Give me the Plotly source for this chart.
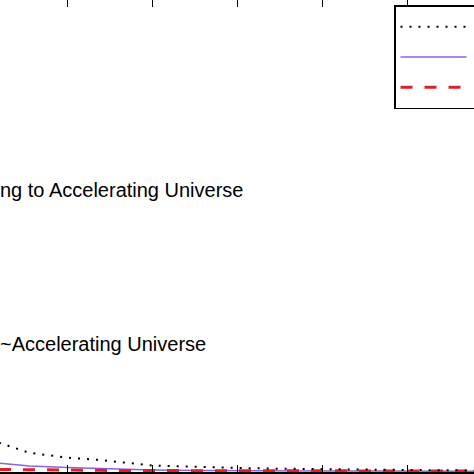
import plotly.graph_objects as go

# x positions (axis units) shared by all three curves
x_vals = [0.2, 0.56, 1.0, 1.39, 2.0, 2.56, 3.0, 3.5, 4.0, 4.5, 5.0, 5.8]

# curve values
dotted_vals = [0.124, 0.081, 0.061, 0.051, 0.0275, 0.0199, 0.017, 0.014, 0.0114, 0.0098, 0.0085, 0.0064]
solid_vals = [0.038, 0.025, 0.019, 0.015, 0.0085, 0.0064, 0.005, 0.0046, 0.0042, 0.0038, 0.0034, 0.003]
dashed_vals = [0.011, 0.009, 0.008, 0.007, 0.006, 0.0055, 0.005, 0.0048, 0.0045, 0.0042, 0.004, 0.004]

series_names = ["Model I", "Model II", "Model III"]
tick_vals = [1, 2, 3, 4, 5]

FONT = "Liberation Sans, Arial, Helvetica"

fig = go.Figure()

# legend labels are off the right edge in the reference, so only the samples show
# dotted curve sits on the top x axis (same range) so that axis gets drawn
fig.add_trace(go.Scatter(
    x=x_vals, y=dotted_vals, mode="lines", name="", xaxis="x2",
    hovertemplate=series_names[0] + "<extra></extra>",
    line=dict(color="black", width=2, dash="2px,7px"),
))
fig.add_trace(go.Scatter(
    x=x_vals, y=solid_vals, mode="lines", name="",
    hovertemplate=series_names[1] + "<extra></extra>",
    line=dict(color="#8d63d6", width=1.5),
))
fig.add_trace(go.Scatter(
    x=x_vals, y=dashed_vals, mode="lines", name="",
    hovertemplate=series_names[2] + "<extra></extra>",
    line=dict(color="#e0202a", width=3, dash="12px,12px"),
))

# region labels
fig.add_annotation(
    xref="paper", yref="paper", x=0, y=1 - 190 / 472,
    text="ng to Accelerating Universe", showarrow=False,
    xanchor="left", yanchor="middle", xshift=-2,
    font=dict(family=FONT, size=20, color="black"),
)
fig.add_annotation(
    xref="paper", yref="paper", x=0, y=1 - 344 / 472,
    text="~Accelerating Universe", showarrow=False,
    xanchor="left", yanchor="middle", xshift=-2,
    font=dict(family=FONT, size=20, color="black"),
)

x_range = [1 - 67 / 85, 1 + 407 / 85]

fig.update_layout(
    width=474, height=474,
    margin=dict(l=0, r=0, t=0, b=2, autoexpand=False),
    paper_bgcolor="white", plot_bgcolor="white",
    font=dict(family=FONT, size=21, color="black"),
    showlegend=True,
    legend=dict(
        x=394 / 474, y=1 - 5 / 472, xanchor="left", yanchor="top",
        bordercolor="black", borderwidth=1.5, bgcolor="white",
        font=dict(size=21), itemwidth=66,
    ),
    xaxis=dict(
        range=x_range, tickvals=tick_vals,
        ticks="inside", ticklen=7, tickwidth=1.2, tickcolor="black",
        showline=True, linecolor="black", linewidth=1.5,
        showticklabels=False, showgrid=False, zeroline=False,
    ),
    xaxis2=dict(
        overlaying="x", range=x_range, side="top", anchor="y", tickvals=tick_vals,
        ticks="inside", ticklen=7, tickwidth=1.2, tickcolor="black",
        showline=False, showticklabels=False, showgrid=False, zeroline=False,
    ),
    yaxis=dict(
        range=[0, 2], showline=False, showticklabels=False,
        showgrid=False, zeroline=False, ticks="",
    ),
)

# drop the browser's default page margin so the figure sits at the window corner
fig.write_html(
    "out.html",
    config={"displayModeBar": False},
    post_script="document.body.style.margin = '0';",
)
